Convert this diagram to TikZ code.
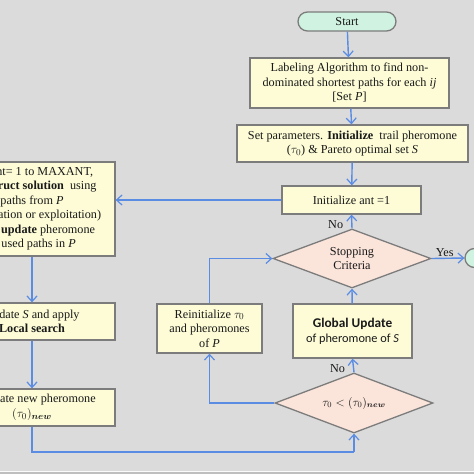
\documentclass[tikz,border=0pt]{standalone}
\usepackage{fontspec}
\usepackage{amsmath}
\usepackage{tikz}
\usetikzlibrary{arrows.meta}
\usetikzlibrary{shapes.geometric}
\usetikzlibrary{calc}
\setmainfont{Liberation Serif}
\newfontfamily\calfont{Carlito}

\definecolor{bggray}{HTML}{DBDBDB}
\definecolor{boxfill}{HTML}{FDFCD6}
\definecolor{boxline}{HTML}{7C7C7C}
\definecolor{startfill}{HTML}{CFF3E0}
\definecolor{decfill}{HTML}{FBE4DA}
\definecolor{flowblue}{HTML}{5A8CE3}

\tikzset{
  box/.style={rectangle,draw=boxline,fill=boxfill,line width=1.3pt,
    align=center,inner sep=1pt},
  decision/.style={diamond,draw=boxline,fill=decfill,line width=1.3pt,
    align=center,inner sep=0pt,aspect=2.6},
  terminal/.style={rectangle,rounded corners=9.5pt,draw=boxline,
    fill=startfill,line width=1.3pt,minimum height=19pt},
  flow/.style={draw=flowblue,line width=1.4pt,
    -{Straight Barb[length=5.5pt,width=10pt,line width=1.2pt]}},
  tag/.style={inner sep=1pt}
}

\begin{document}
\begin{tikzpicture}[x=1pt,y=-1pt,
    every node/.style={font=\fontsize{12.2}{14.5}\selectfont,text=black!90}]
  \useasboundingbox (0,0) rectangle (474,474);
  \fill[bggray] (0,0) rectangle (474,474);
  \fill[white!90!bggray] (0,470.5) rectangle (474,471.5);
  \fill[black!25] (0,471.5) rectangle (474,474);

  % boxes
  \begin{scope}
    \node[terminal,minimum width=98pt] (start) at (347,21.5) {Start};
    \node[box,minimum width=199pt,minimum height=50pt] (label) at (349.5,83)
      {Labeling Algorithm to find non-\\dominated shortest paths for each \textit{ij}\\{}[Set \textit{P}]};
    \node[box,minimum width=231pt,minimum height=37pt] (setp) at (352.5,143.5)
      {Set parameters. \textbf{Initialize}\ \ trail pheromone\\($\tau_0$) \& Pareto optimal set \textit{S}};
    \node[box,minimum width=139pt,minimum height=28pt] (initant) at (351.5,200)
      {Initialize ant =1};
    \node[box,minimum width=166pt,minimum height=94pt] (build) at (32,209)
      {For ant= 1 to MAXANT,\\\textbf{Construct solution}\ \ using\\paths from \textit{P}\\(exploration or exploitation)\\\textbf{Local update} pheromone\\of used paths in \textit{P}};
    \node[box,minimum width=166pt,minimum height=37pt] (upds) at (32,321.5)
      {Update \textit{S} and apply\\\textbf{Local search}};
    \node[box,minimum width=166pt,minimum height=37pt] (calc) at (32,407.5)
      {Calculate new pheromone\\$(\tau_0)_{\boldsymbol{new}}$};
    \node[decision,minimum width=158pt,minimum height=59pt] (stop) at (352,258.5)
      {Stopping\\Criteria};
    \node[box,minimum width=105pt,minimum height=49pt] (reinit) at (209.5,328.5)
      {Reinitialize $\tau_0$\\and pheromones\\of \textit{P}};
    \node[box,minimum width=119pt,minimum height=54pt,
      font=\calfont\fontsize{12.3}{15}\selectfont] (glob) at (352.5,331)
      {{\fontsize{13.3}{15}\selectfont\textbf{Global Update}}\\of pheromone of \textit{S}};
    \node[decision,minimum width=158pt,minimum height=60pt,
      font=\calfont\fontsize{12}{14}\selectfont] (cmp) at (354,403)
      {$\tau_0 < (\tau_0)_{\boldsymbol{new}}$};
    \node[terminal,minimum width=60pt] (finish) at (495,258) {};
  \end{scope}

  \coordinate (bot) at (354,452);

  % connectors
  \begin{scope}[every edge/.style={flow}]
    \path (start) edge (label);
    \path (label) edge (setp);
    \path (setp) edge (initant);
    \path (initant.west) edge (initant.west -| build.east);
    \path (build) edge (upds);
    \path (upds) edge (calc);
    \draw[draw=flowblue,line width=1.4pt] (calc.south) |- (bot);
    \path (bot) edge (cmp.south);
    \path (cmp.north) edge node[tag,left=7pt,pos=0.25] (no2) {No} (glob.south);
    \path (glob) edge (stop.south);
    \path (stop.north) edge node[tag,left=7pt,pos=0.3] (no1) {No} (initant.south);
    \path (stop.east) edge node[tag,above,pos=0.4] (yes1) {Yes} (finish.west);
    \path (cmp.west) edge[to path={-| (\tikztotarget)}]
      node[tag,above,pos=0.4] (yes2) {Yes} (reinit.south);
    \path (reinit.north) edge[to path={|- (\tikztotarget)}] (stop.west);
  \end{scope}
\end{tikzpicture}
\end{document}
